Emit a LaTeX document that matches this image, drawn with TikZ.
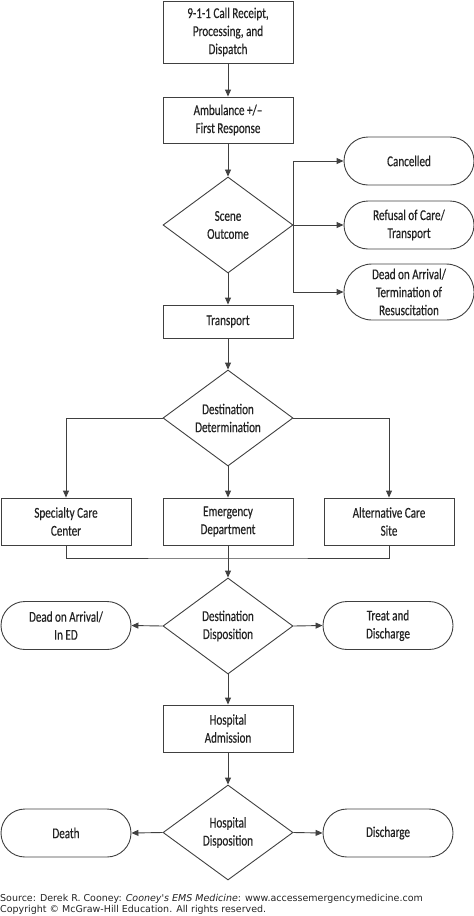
\documentclass[tikz,border=0pt]{standalone}
\usepackage{fontspec}
\setmainfont[FakeStretch=0.74,FakeBold=0.4]{Carlito}
\newfontfamily\srcfont{DejaVu Sans}
\usepackage{tikz}
\usetikzlibrary{shapes.geometric,shapes.misc,arrows.meta}

\definecolor{linegray}{RGB}{64,64,64}
\definecolor{textgray}{RGB}{35,35,35}

\tikzset{
  procbox/.style={draw=linegray, line width=0.9pt, minimum width=130pt, align=center, inner sep=0pt, text=textgray},
  decision/.style={diamond, draw=linegray, line width=0.9pt, aspect=1.35, minimum width=130pt, minimum height=96pt, align=center, inner sep=0pt, text=textgray},
  termbox/.style={rounded rectangle, draw=linegray, line width=0.9pt, minimum width=130pt, minimum height=48pt, align=center, inner sep=0pt, text=textgray},
  flow/.style={draw=linegray, line width=0.9pt, -{Triangle[length=7pt,width=6pt]}},
  joinline/.style={draw=linegray, line width=0.9pt}
}

\begin{document}
\begin{tikzpicture}[x=1pt,y=1pt,yscale=-1,xscale=1,font=\fontsize{15}{18}\selectfont]
            \useasboundingbox (0,0) rectangle (474,916);
            %Process
            \node [procbox, minimum height=62pt] (call) at (228,32) {9-1-1 Call Receipt,\\Processing, and\\Dispatch};
            %Process
            \node [procbox, minimum height=46pt] (amb) at (228,120) {Ambulance +/--\\First Response};
            %Decision
            \node [decision] (scene) at (228,225) {Scene\\Outcome};
            %Terminators
            \node [termbox] (cancel) at (409,161) {Cancelled};
            \node [termbox] (refuse) at (409,225) {Refusal of Care/\\Transport};
            \node [termbox, minimum height=56pt] (doa) at (409,292) {Dead on Arrival/\\Termination of\\Resuscitation};
            %Process
            \node [procbox, minimum height=33pt] (trans) at (228,321.5) {Transport};
            %Decision
            \node [decision] (destdet) at (228,418) {Destination\\Determination};
            %Process
            \node [procbox, minimum height=47pt] (spec) at (66,521.5) {Specialty Care\\Center};
            \node [procbox, minimum height=47pt] (ed) at (228,521.5) {Emergency\\Department};
            \node [procbox, minimum height=47pt] (alt) at (389,521.5) {Alternative Care\\Site};
            %Decision
            \node [decision] (destdisp) at (228,626) {Destination\\Disposition};
            %Terminators
            \node [termbox] (doaed) at (66,625.5) {Dead on Arrival/\\In ED};
            \node [termbox] (treat) at (388,625.5) {Treat and\\Discharge};
            %Process
            \node [procbox, minimum height=47pt] (admit) at (228,728.5) {Hospital\\Admission};
            %Decision
            \node [decision, minimum height=95pt] (hospdisp) at (228,832.5) {Hospital\\Disposition};
            %Terminators
            \node [termbox] (death) at (66,833) {Death};
            \node [termbox] (disch) at (388,833) {Discharge};
            %Junctions
            \coordinate (fork) at (293,225);
            \coordinate (merge) at (228,558);
            %Straight Lines
            \draw [flow] (call) -- (amb);
            \draw [flow] (amb) -- (scene);
            \draw [flow] (scene) -- (trans);
            \draw [flow] (scene.east) -- (refuse.west);
            \draw [flow] (fork) |- (cancel.west);
            \draw [flow] (fork) |- (doa.west);
            \draw [flow] (trans) -- (destdet);
            \draw [flow] (destdet.west) -| (spec.north);
            \draw [flow] (destdet) -- (ed);
            \draw [flow] (destdet.east) -| (alt.north);
            \draw [joinline] (spec.south) |- (merge) -| (alt.south);
            \draw [flow] (ed) -- (destdisp);
            \draw [flow] (destdisp.west) -- (doaed.east);
            \draw [flow] (destdisp.east) -- (treat.west);
            \draw [flow] (destdisp) -- (admit);
            \draw [flow] (admit) -- (hospdisp);
            \draw [flow] (hospdisp.west) -- (death.east);
            \draw [flow] (hospdisp.east) -- (disch.west);
            %Source line
            \node [anchor=west, align=left, inner sep=0pt, text=textgray, font=\srcfont\fontsize{9.5}{11}\selectfont] (source) at (0,904.5) {Source: Derek R. Cooney: \textit{Cooney's EMS Medicine}: www.accessemergencymedicine.com\\Copyright \textcopyright{} McGraw-Hill Education. All rights reserved.};
        \end{tikzpicture}
\end{document}
